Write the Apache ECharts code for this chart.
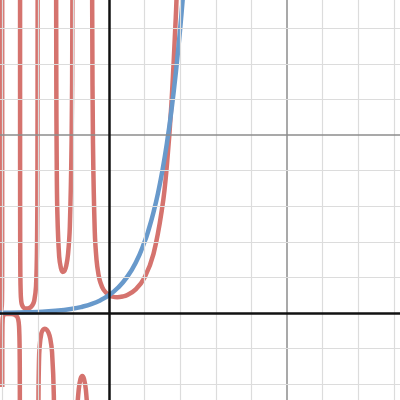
<!DOCTYPE html>
<html>
<head>
<meta charset="utf-8">
<script src="https://cdn.jsdelivr.net/npm/echarts@6/dist/echarts.min.js"></script>
<style>html,body{margin:0;padding:0;background:#fff}#chart{width:400px;height:400px}</style>
</head>
<body>
<div id="chart"></div>
<script>
// blue curve
const blueCurve = [
    [-3.1, 0.007], [-2.5, 0.016], [-2, 0.031], [-1.5, 0.063], [-1, 0.125], [-0.75, 0.177],
    [-0.5, 0.25], [-0.25, 0.354], [0, 0.5], [0.25, 0.71], [0.5, 1], [0.75, 1.41], [1, 2],
    [1.125, 2.38], [1.25, 2.83], [1.375, 3.36], [1.5, 4], [1.625, 4.76], [1.75, 5.66],
    [1.875, 6.73], [2, 8], [2.1, 9.2]
];

// red curve, one array per branch between the poles
const red0 = [[-3.07, 0.04], [-3.06, 0.05], [-3.02, 0.1], [-3.005, 0.42], [-3.002, 1.04], [-3.001, 2.08], [-3.0005, 4.17], [-3.0002, 10.4]];
const red1 = [[-2.999, -2.08], [-2.998, -1.04], [-2.995, -0.42], [-2.99, -0.22], [-2.98, -0.11], [-2.95, -0.05], [-2.9, -0.031],
    [-2.75, -0.03], [-2.6, -0.082], [-2.55, -0.18], [-2.525, -0.41], [-2.51, -1.04], [-2.505, -2.08], [-2.503, -3.47]];
const red2 = [[-2.4985, 10.4], [-2.4975, 4.2], [-2.495, 2.08], [-2.49, 1.07], [-2.48, 0.55], [-2.47, 0.382], [-2.45, 0.246],
    [-2.4, 0.15], [-2.35, 0.126], [-2.3, 0.123], [-2.25, 0.135], [-2.2, 0.163], [-2.15, 0.219], [-2.1, 0.345],
    [-2.05, 0.747], [-2.02, 2.08], [-2.01, 4.17], [-2.005, 8.3], [-2.003, 13.9]];
const red3 = [[-1.99, -4.28], [-1.98, -2.2], [-1.97, -1.51], [-1.95, -0.96], [-1.9, -0.569], [-1.85, -0.466], [-1.8, -0.444],
    [-1.75, -0.473], [-1.7, -0.554], [-1.65, -0.72], [-1.6, -1.1], [-1.55, -2.31], [-1.52, -6.0]];
const red4 = [[-1.49, 12.7], [-1.48, 6.5], [-1.47, 4.43], [-1.45, 2.78], [-1.4, 1.59], [-1.35, 1.26], [-1.3, 1.155],
    [-1.25, 1.18], [-1.2, 1.33], [-1.15, 1.66], [-1.1, 2.43], [-1.05, 4.86], [-1.03, 8.1], [-1.02, 12.3]];
const red5 = [[-0.95, -5.28], [-0.9, -2.87], [-0.85, -2.14], [-0.8, -1.85], [-0.75, -1.77], [-0.7, -1.86],
    [-0.65, -2.16], [-0.6, -2.91], [-0.55, -5.34]];
const red6 = [[-0.475, 9.7], [-0.47, 8.0], [-0.45, 4.76], [-0.4, 2.29], [-0.35, 1.49], [-0.3, 1.11], [-0.25, 0.886],
    [-0.15, 0.649], [0, 0.5], [0.1, 0.459], [0.23, 0.443], [0.4, 0.466], [0.5, 0.5], [0.75, 0.665], [1, 1],
    [1.25, 1.66], [1.5, 3], [1.625, 4.14], [1.75, 5.82], [1.875, 8.29], [1.9, 8.92], [1.95, 10.3]];

const xMin = -3.062, xMax = 8.174, yMin = -2.444, yMax = 8.792;

let redCurve = [];
for (let b of [red0, red1, red2, red3, red4, red5, red6]) {
    redCurve = redCurve.concat(b);
    redCurve.push([null, null]);
}

// grid lines
let gridLines = [];
for (let x = -3; x <= 8; x++) {
    if (x === 0) continue;
    gridLines.push({ xAxis: x, lineStyle: { color: x % 5 === 0 ? '#8c8c8c' : '#dcdcdc', width: x % 5 === 0 ? 1.5 : 1.2, type: 'solid' } });
}
for (let y = -2; y <= 8; y++) {
    if (y === 0) continue;
    gridLines.push({ yAxis: y, lineStyle: { color: y % 5 === 0 ? '#8c8c8c' : '#dcdcdc', width: y % 5 === 0 ? 1.5 : 1.2, type: 'solid' } });
}
gridLines.push({ xAxis: 0, lineStyle: { color: '#111', width: 2.5, type: 'solid' } });
gridLines.push({ yAxis: 0, lineStyle: { color: '#111', width: 2.5, type: 'solid' } });

const chart = echarts.init(document.getElementById('chart'));
chart.setOption({
    animation: false,
    grid: { left: 0, right: 0, top: 0, bottom: 0 },
    xAxis: { type: 'value', min: xMin, max: xMax, show: false },
    yAxis: { type: 'value', min: yMin, max: yMax, show: false },
    series: [
        {
            type: 'line', data: [], silent: true,
            markLine: { silent: true, symbol: 'none', label: { show: false }, data: gridLines }
        },
        {
            type: 'line', data: redCurve, showSymbol: false, smooth: 0.4, connectNulls: false,
            lineStyle: { color: '#d5736e', width: 4.5 }
        },
        {
            type: 'line', data: blueCurve, showSymbol: false, smooth: true,
            lineStyle: { color: '#6899cb', width: 4.5 }
        }
    ]
});
</script>
</body>
</html>
